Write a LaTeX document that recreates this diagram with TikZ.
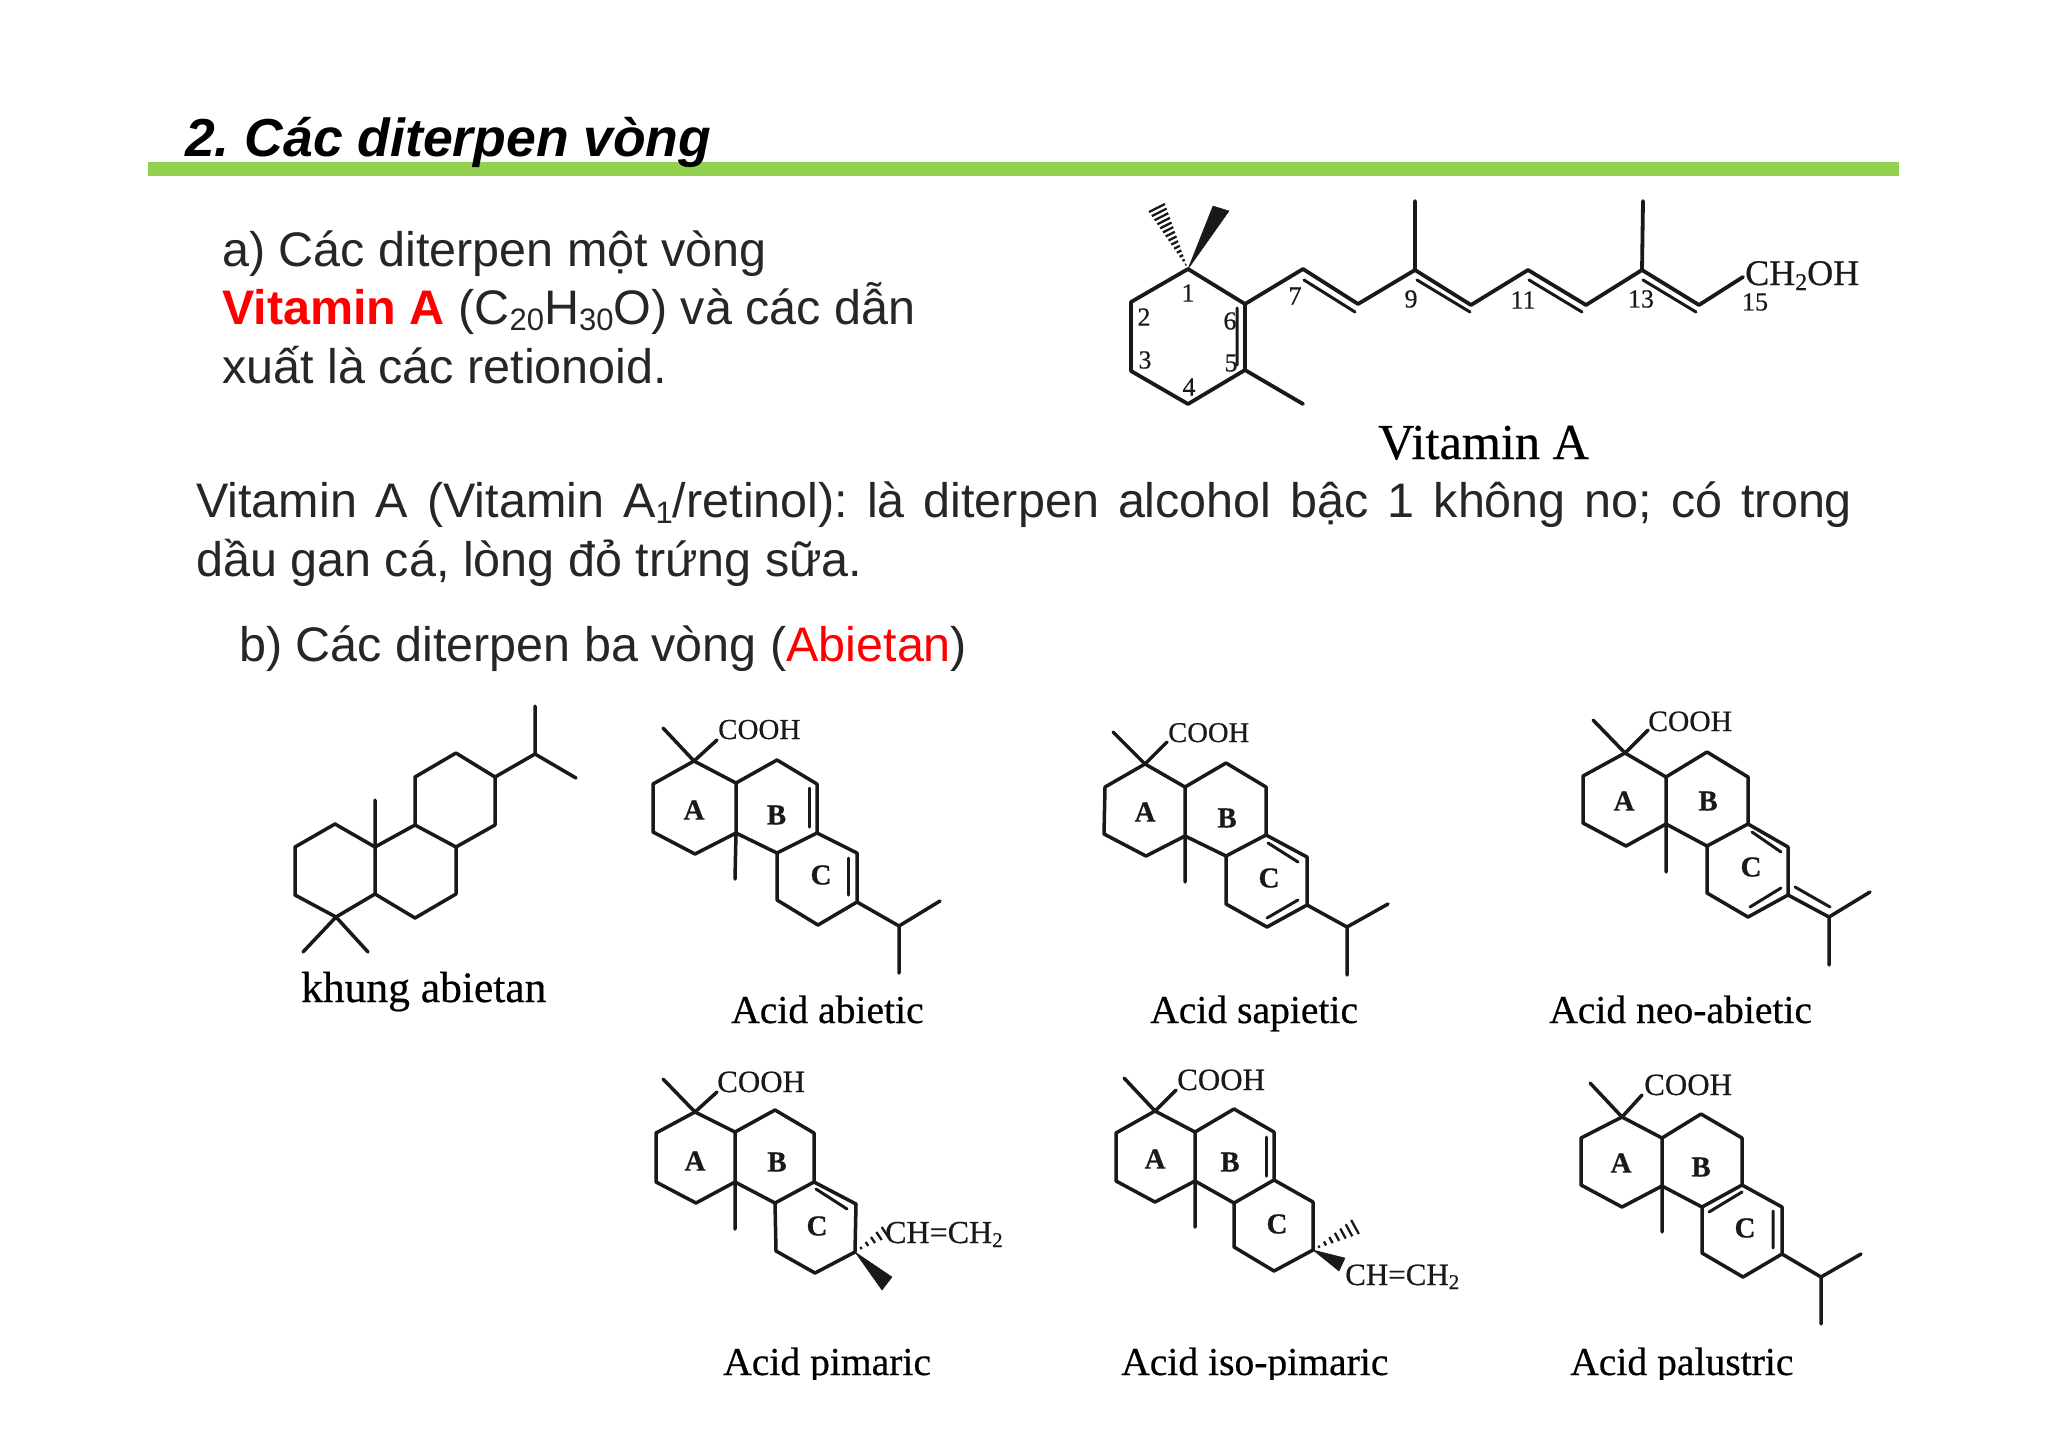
\documentclass[tikz,border=0pt]{standalone}
\usepackage{fontspec}
\setmainfont{Liberation Sans}
\newfontfamily\chemfont[FakeBold=0.5]{Liberation Serif}
\frenchspacing
\newcommand{\fz}[1]{\fontsize{#1}{#1}\selectfont}
\newcommand{\subsf}[1]{\raisebox{-6pt}{\fz{31}#1}}
\newcommand{\subch}[2]{\raisebox{-#1}{\fz{#2}2}}
\newcommand{\hashbond}[6]{%
  \foreach \i in {1,...,#6}{%
    \pgfmathsetmacro\tt{\i/#6}%
    \pgfmathsetmacro\cx{#1+\tt*(#3-#1)}%
    \pgfmathsetmacro\cy{#2+\tt*(#4-#2)}%
    \pgfmathsetmacro\len{veclen(#3-#1,#4-#2)}%
    \pgfmathsetmacro\nx{-(#4-#2)/\len*#5*\tt}%
    \pgfmathsetmacro\ny{(#3-#1)/\len*#5*\tt}%
    \draw[hash] (\cx+\nx,\cy+\ny) -- (\cx-\nx,\cy-\ny);
  }}
\tikzset{
  bond/.style={line width=3.5pt,line join=round,line cap=round,black!90},
  thinbond/.style={line width=3pt,line cap=round,black!90},
  hash/.style={line width=2.3pt,black!90},
  wedgebond/.style={fill=black!90,draw=black!90,line width=.5pt,line join=round},
  sanstext/.style={anchor=base west,inner sep=0pt,text=black!85,font=\fz{48.5}},
  chemtext/.style={anchor=base west,inner sep=0pt,text=black!90},
  ringlabel/.style={anchor=center,inner sep=0pt,text=black!90,font=\chemfont\bfseries\fz{29}},
  numlabel/.style={anchor=center,inner sep=0pt,text=black!90,font=\chemfont\fz{26}},
  molname/.style={anchor=base west,inner sep=0pt,text=black,font=\chemfont\fz{39.6}},
}
\definecolor{barg}{HTML}{92D050}
\definecolor{redt}{HTML}{FF0000}
\begin{document}
\begin{tikzpicture}[x=1pt,y=-1pt]
\useasboundingbox[fill=white] (0,0) rectangle (2048,1448);
% header
\fill[barg] (148,162) rectangle (1899,176);
\node[sanstext,font=\bfseries\itshape\fz{53.5},text=black] (title) at (185,156) {2. Các diterpen vòng};
% text
\node[sanstext] (ta) at (222,266) {a) Các diterpen một vòng};
\node[sanstext] (tb) at (222,324) {\textbf{\textcolor{redt}{Vitamin A}} (C\subsf{20}H\subsf{30}O) và các dẫn};
\node[sanstext] (tc) at (222,383) {xuất là các retionoid.};
\node[sanstext] (td) at (196,517) {\makebox[1656pt][s]{Vitamin A (Vitamin A\subsf{1}/retinol): là diterpen alcohol bậc 1 không no; có trong}};
\node[sanstext] (te) at (196,576) {dầu gan cá, lòng đỏ trứng sữa.};
\node[sanstext] (tf) at (239,661) {b) Các diterpen ba vòng (\textcolor{redt}{Abietan})};
% Vitamin A
\draw[bond,line width=3.8pt] (1188,269)--(1131,302)--(1131,371)--(1188,404)--(1245,370)--(1245,304)--cycle;
\draw[bond,line width=3.8pt] (1245,370)--(1303,404);
\draw[bond,line width=3.8pt] (1245,304)--(1303,269)--(1358,304)--(1415,270)--(1471,305)--(1528,270)--(1586,305)--(1642,270)--(1699,305)--(1743,277);
\draw[bond,line width=3.8pt] (1415,270)--(1415,201) (1642,270)--(1643,201);
\draw[thinbond] (1237,308)--(1237,365) (1304,280)--(1355,312) (1417,280)--(1470,312) (1529,280)--(1582,312) (1643,280)--(1696,312);
\fill[wedgebond] (1188,269)--(1213,206)--(1229,211)--cycle;
\hashbond{1188}{269}{1157}{208}{9}{14}
\node[chemtext,font=\chemfont\fz{36}] (choh) at (1745,285) {CH\subch{5pt}{24}OH};
\node[numlabel] (n1) at (1188,293) {1};
\node[numlabel] (n2) at (1144,317) {2};
\node[numlabel] (n3) at (1145,360) {3};
\node[numlabel] (n4) at (1189,387) {4};
\node[numlabel] (n5) at (1231,363) {5};
\node[numlabel] (n6) at (1230,321) {6};
\node[numlabel] (n7) at (1295,296) {7};
\node[numlabel] (n9) at (1411,299) {9};
\node[numlabel] (n11) at (1523,300) {11};
\node[numlabel] (n13) at (1641,299) {13};
\node[numlabel] (n15) at (1755,302) {15};
\node[molname,font=\chemfont\fz{50.3}] (vita) at (1378,459) {Vitamin A};
% khung abietan
\draw[bond] (335,824)--(295,847)--(295,895)--(336,917)--(375,894)--(375,847)--cycle;
\draw[bond] (375,847)--(415,825)--(456,847)--(456,894)--(415,918)--(375,894);
\draw[bond] (415,825)--(415,777)--(456,753)--(495,777)--(495,825)--(456,847);
\draw[bond] (375,847)--(375,800) (495,777)--(535,754)--(535,706) (535,754)--(576,778);
\draw[bond] (303,952)--(336,917)--(368,952);
\node[molname,font=\chemfont\fz{43.5}] (kh) at (301,1002) {khung abietan};
% acid abietic
\draw[bond] (694,761)--(653,784)--(653,832)--(695,854)--(736,833)--(736,783)--cycle;
\draw[bond] (736,783)--(777,760)--(817,784)--(817,833)--(777,853)--(736,833);
\draw[bond] (817,833)--(857,853)--(857,902)--(818,925)--(777,900)--(777,853);
\draw[bond] (663,728)--(694,761)--(717,740) (736,833)--(735,879);
\draw[bond] (857,902)--(899,926)--(940,901) (899,926)--(899,973);
\draw[thinbond] (809,788)--(809,827) (848,858)--(848,895);
\node[chemtext,font=\chemfont\fz{29}] (c1) at (718,739) {COOH};
\node[ringlabel] (a1) at (694,810) {A};
\node[ringlabel] (b1) at (776.5,815) {B};
\node[ringlabel] (cc1) at (821,875) {C};
\node[molname] (l1) at (731,1023) {Acid abietic};
% acid sapietic
\draw[bond] (1145,764)--(1105,787)--(1104,834)--(1146,856)--(1185,836)--(1185,787)--cycle;
\draw[bond] (1185,787)--(1226,763)--(1266,787)--(1266,835)--(1226,856)--(1185,836);
\draw[bond] (1266,835)--(1307,857)--(1307,905)--(1267,927)--(1226,904)--(1226,856);
\draw[bond] (1113,732)--(1145,764)--(1167,742) (1185,836)--(1185,882);
\draw[bond] (1307,905)--(1347,927)--(1388,904) (1347,927)--(1347,975);
\draw[thinbond] (1268,843)--(1298,862) (1298,900)--(1267,918);
\node[chemtext,font=\chemfont\fz{28.6}] (c2) at (1168,742) {COOH};
\node[ringlabel] (a2) at (1145,812) {A};
\node[ringlabel] (b2) at (1227,818) {B};
\node[ringlabel] (cc2) at (1269,878) {C};
\node[molname] (l2) at (1150,1023) {Acid sapietic};
% acid neo-abietic
\draw[bond] (1625,753)--(1583,776)--(1583,823)--(1626,846)--(1666,824)--(1666,777)--cycle;
\draw[bond] (1666,777)--(1707,752)--(1748,777)--(1748,824)--(1707,846)--(1666,824);
\draw[bond] (1748,824)--(1788,847)--(1788,895)--(1748,917)--(1707,893)--(1707,846);
\draw[bond] (1593,720)--(1625,753)--(1648,730) (1666,824)--(1666,872);
\draw[bond] (1788,895)--(1829,917)--(1870,892) (1829,917)--(1829,965);
\draw[thinbond] (1752,832)--(1781,852) (1781,888)--(1750,907) (1795,887)--(1830,907);
\node[chemtext,font=\chemfont\fz{29.6}] (c3) at (1648,731) {COOH};
\node[ringlabel] (a3) at (1624,801) {A};
\node[ringlabel] (b3) at (1708,801) {B};
\node[ringlabel] (cc3) at (1751,867) {C};
\node[molname] (l3) at (1549,1023) {Acid neo-abietic};
% acid pimaric
\draw[bond] (695,1112)--(656,1133)--(656,1182)--(696,1203)--(735,1182)--(735,1132)--cycle;
\draw[bond] (735,1132)--(775,1110)--(814,1133)--(814,1182)--(775,1203)--(735,1182);
\draw[bond] (814,1182)--(856,1204)--(855,1252)--(815,1273)--(776,1251)--(775,1203);
\draw[bond] (663,1079)--(695,1112)--(717,1092) (735,1182)--(735,1229);
\draw[thinbond] (816,1189)--(847,1209);
\fill[wedgebond] (855,1252)--(892,1277)--(882,1290)--cycle;
\hashbond{855}{1252}{885}{1232}{6}{5}
\node[chemtext,font=\chemfont\fz{31}] (c4) at (717,1092) {COOH};
\node[chemtext,font=\chemfont\fz{32}] (v4) at (885,1243) {CH=CH\subch{4pt}{21}};
\node[ringlabel] (a4) at (695,1161) {A};
\node[ringlabel] (b4) at (777,1162) {B};
\node[ringlabel] (cc4) at (817,1226) {C};
\node[molname] (l4) at (723,1375) {Acid pimaric};
% acid iso-pimaric
\draw[bond] (1155,1111)--(1116,1133)--(1116,1181)--(1155,1202)--(1195,1181)--(1195,1132)--cycle;
\draw[bond] (1195,1132)--(1234,1109)--(1274,1132)--(1274,1180)--(1234,1203)--(1195,1181);
\draw[bond] (1274,1180)--(1313,1202)--(1313,1250)--(1274,1271)--(1234,1247)--(1234,1203);
\draw[bond] (1124,1078)--(1155,1111)--(1176,1090) (1195,1181)--(1195,1227);
\draw[thinbond] (1266,1137)--(1266,1176);
\fill[wedgebond] (1313,1250)--(1345,1258)--(1339,1271)--cycle;
\hashbond{1313}{1250}{1355}{1227}{8}{7}
\node[chemtext,font=\chemfont\fz{31}] (c5) at (1177,1090) {COOH};
\node[chemtext,font=\chemfont\fz{31}] (v5) at (1345,1285) {CH=CH\subch{4pt}{21}};
\node[ringlabel] (a5) at (1155,1159) {A};
\node[ringlabel] (b5) at (1230,1162) {B};
\node[ringlabel] (cc5) at (1277,1224) {C};
\node[molname] (l5) at (1121,1375) {Acid iso-pimaric};
% acid palustric
\draw[bond] (1622,1117)--(1581,1138)--(1581,1185)--(1622,1207)--(1662,1186)--(1662,1138)--cycle;
\draw[bond] (1662,1138)--(1701,1114)--(1742,1138)--(1742,1185)--(1702,1207)--(1662,1186);
\draw[bond] (1742,1185)--(1782,1207)--(1782,1254)--(1743,1277)--(1702,1253)--(1702,1207);
\draw[bond] (1590,1083)--(1622,1117)--(1642,1095) (1662,1186)--(1662,1232);
\draw[bond] (1782,1254)--(1821,1277)--(1861,1254) (1821,1277)--(1821,1324);
\draw[thinbond] (1742,1192)--(1709,1212) (1773,1211)--(1773,1248);
\node[chemtext,font=\chemfont\fz{31}] (c6) at (1644,1095) {COOH};
\node[ringlabel] (a6) at (1621,1163) {A};
\node[ringlabel] (b6) at (1701,1167) {B};
\node[ringlabel] (cc6) at (1745,1228) {C};
\node[molname] (l6) at (1570,1375) {Acid palustric};
% the reference image crops the descenders of the bottom row
\fill[white] (700,1380) rectangle (1850,1400);
\end{tikzpicture}
\end{document}
